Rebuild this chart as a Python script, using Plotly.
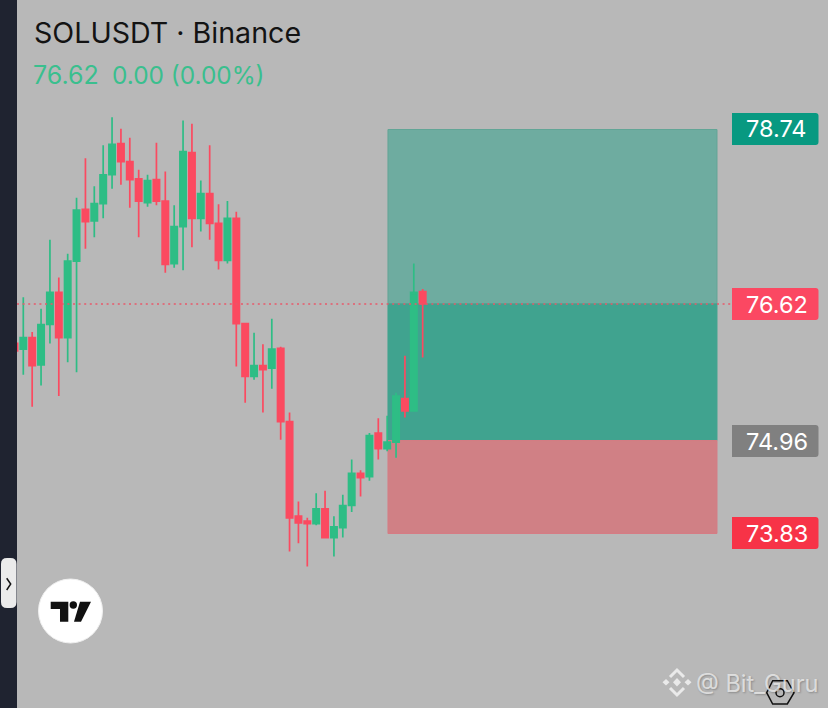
# %%
"""
SOLUSDT candles with a long position box and TradingView style price tags.
"""

import plotly.graph_objects as go

# %%
# Chart values
opens = [76.14, 76.07, 76.21, 75.88, 76.37, 76.76, 76.21, 77.14, 77.77, 77.63, 77.84, 78.19,
         78.57, 78.35, 78.14, 77.85, 78.13, 77.87, 77.11, 77.56, 78.46, 77.66, 77.96, 77.60,
         77.15, 77.66, 76.38, 75.74, 75.87, 75.84, 76.08, 75.19, 74.04, 73.98, 73.95, 74.13,
         73.78, 73.90, 74.17, 74.56, 74.52, 75.05, 74.86, 74.94, 75.47, 75.32, 76.77]
highs = [76.18, 76.70, 76.28, 76.56, 77.40, 76.94, 77.23, 77.91, 78.39, 78.05, 78.55, 78.89,
         78.75, 78.64, 78.25, 78.19, 78.58, 78.23, 77.82, 78.85, 78.81, 78.12, 78.55, 77.83,
         77.87, 77.74, 76.38, 76.27, 76.13, 76.44, 76.10, 75.30, 74.22, 74.02, 74.32, 74.35,
         74.04, 74.30, 74.73, 74.60, 75.05, 75.23, 75.26, 75.54, 75.99, 77.11, 76.80]
lows = [76.03, 75.76, 75.37, 75.63, 76.14, 75.50, 75.91, 75.79, 77.29, 77.43, 77.66, 78.02,
        78.07, 77.79, 77.43, 77.80, 77.82, 77.00, 77.06, 77.03, 77.31, 77.50, 77.40, 77.04,
        77.11, 75.86, 75.42, 75.70, 75.30, 75.59, 74.97, 73.61, 73.71, 73.43, 73.93, 73.78,
        73.55, 73.78, 74.09, 74.28, 74.47, 74.73, 74.83, 74.75, 75.24, 75.32, 75.97]
closes = [76.05, 76.21, 75.87, 76.37, 76.76, 76.21, 77.14, 77.76, 77.62, 77.84, 78.19, 78.56,
          78.35, 78.13, 77.87, 78.12, 77.87, 77.10, 77.56, 78.47, 77.66, 77.96, 77.60, 77.15,
          77.66, 76.38, 75.74, 75.87, 75.82, 76.07, 75.19, 74.02, 73.96, 73.95, 74.13, 73.78,
          73.91, 74.17, 74.56, 74.51, 75.02, 74.86, 74.94, 75.50, 75.32, 76.76, 76.62]
candle_index = list(range(-1, 46))

target_price = 78.74
last_price = 76.62
entry_price = 74.96
stop_price = 73.83
tag_labels = ["78.74", "76.62", "74.96", "73.83"]
tag_prices = [target_price, last_price, entry_price, stop_price]
tag_colors = ["#089981", "#fb4862", "#808080", "#f73347"]
box_start = 41.09
box_end = 78.16

# %%
# Screen layout: the page is 828x708 and everything is placed on it
W, H = 828, 708
BG = "#b8b8b8"
GREEN = "#2ebd85"
RED = "#fb4a60"
PX_PER_PRICE = 82.28
Y_TOP = target_price + 129.5 / PX_PER_PRICE
Y_BOTTOM = target_price - (H - 129.5) / PX_PER_PRICE
X_LEFT = -23.3 / 8.875
X_RIGHT = (W - 23.3) / 8.875


def fx(px):
    return px / W


def fy(py):
    return 1 - py / H


def px_path(points, close=True):
    # build a paper-coordinate svg path from page pixels
    parts = [f"{'M' if i == 0 else 'L'} {fx(x):.5f} {fy(y):.5f}" for i, (x, y) in enumerate(points)]
    return " ".join(parts) + (" Z" if close else "")


def tag_path(x0, x1, y0, y1, r=3):
    # square on the left, rounded on the right
    return (
        f"M {fx(x0):.5f} {fy(y0):.5f} L {fx(x1 - r):.5f} {fy(y0):.5f} "
        f"Q {fx(x1):.5f} {fy(y0):.5f} {fx(x1):.5f} {fy(y0 + r):.5f} "
        f"L {fx(x1):.5f} {fy(y1 - r):.5f} "
        f"Q {fx(x1):.5f} {fy(y1):.5f} {fx(x1 - r):.5f} {fy(y1):.5f} "
        f"L {fx(x0):.5f} {fy(y1):.5f} Z"
    )


def pill_path(x0, x1, y0, y1, r):
    return (
        f"M {fx(x0 + r):.5f} {fy(y0):.5f} L {fx(x1 - r):.5f} {fy(y0):.5f} "
        f"Q {fx(x1):.5f} {fy(y0):.5f} {fx(x1):.5f} {fy(y0 + r):.5f} "
        f"L {fx(x1):.5f} {fy(y1 - r):.5f} "
        f"Q {fx(x1):.5f} {fy(y1):.5f} {fx(x1 - r):.5f} {fy(y1):.5f} "
        f"L {fx(x0 + r):.5f} {fy(y1):.5f} "
        f"Q {fx(x0):.5f} {fy(y1):.5f} {fx(x0):.5f} {fy(y1 - r):.5f} "
        f"L {fx(x0):.5f} {fy(y0 + r):.5f} "
        f"Q {fx(x0):.5f} {fy(y0):.5f} {fx(x0 + r):.5f} {fy(y0):.5f} Z"
    )


def page_shape(path, fill="rgba(0,0,0,0)", color="rgba(0,0,0,0)", width=0, opacity=1):
    return dict(type="path", xref="paper", yref="paper", path=path, fillcolor=fill,
                line=dict(color=color, width=width), opacity=opacity, layer="above")


# %%
fig = go.Figure()

fig.add_trace(go.Candlestick(
    x=candle_index,
    open=opens,
    high=highs,
    low=lows,
    close=closes,
    increasing=dict(line=dict(color=GREEN, width=1.7), fillcolor=GREEN),
    decreasing=dict(line=dict(color=RED, width=1.7), fillcolor=RED),
    whiskerwidth=0,
    hoverinfo="skip",
    showlegend=False,
))

shapes = []

# Position box
shapes.append(dict(type="rect", x0=box_start, x1=box_end, y0=last_price, y1=target_price,
                   fillcolor="#6eaca0", line=dict(color="#62a596", width=1), layer="below"))
shapes.append(dict(type="rect", x0=box_start, x1=box_end, y0=entry_price, y1=last_price,
                   fillcolor="#40a38f", line=dict(color="#40a38f", width=1), layer="below"))
shapes.append(dict(type="rect", x0=box_start, x1=box_end, y0=stop_price, y1=entry_price,
                   fillcolor="#d08085", line=dict(color="#d57c84", width=1), layer="below"))

# Last price line
shapes.append(dict(type="line", xref="paper", x0=fx(17), x1=fx(731), yref="y", y0=last_price, y1=last_price,
                   line=dict(color="#e8586a", width=1.6, dash="2px,3.6px"), layer="above"))

# Sidebar and handle
shapes.append(dict(type="rect", xref="paper", yref="paper", x0=0, x1=fx(17), y0=0, y1=1,
                   fillcolor="#1f2330", line=dict(width=0), layer="above"))
shapes.append(page_shape(pill_path(1, 16.5, 558, 608, 6), fill="#ebebeb"))
shapes.append(page_shape(px_path([(6.7, 578.3), (10.7, 584), (6.7, 590)], close=False),
                         color="#111111", width=1.5))

# TradingView badge
shapes.append(dict(type="circle", xref="paper", yref="paper", x0=fx(38.5), x1=fx(102.5), y0=fy(643), y1=fy(579),
                   fillcolor="#ffffff", line=dict(color="#f0f0f0", width=1), layer="above"))
shapes.append(page_shape(px_path([(50.7, 601.7), (68.3, 601.7), (68.3, 621.7), (60, 621.7), (60, 609), (50.7, 609)]),
                         fill="#111111"))
shapes.append(dict(type="circle", xref="paper", yref="paper", x0=fx(69.6), x1=fx(77), y0=fy(608.7), y1=fy(601.3),
                   fillcolor="#111111", line=dict(width=0), layer="above"))
shapes.append(page_shape(px_path([(80, 601.7), (91, 601.7), (81, 621.7), (74, 621.7)]), fill="#111111"))

# Price tags
tag_y = [129, 304, 441, 533]
for y, color in zip(tag_y, tag_colors):
    shapes.append(page_shape(tag_path(732, 818.5, y - 16, y + 16), fill=color))

# Binance mark
mark = "rgba(242,242,242,0.85)"
shapes.append(page_shape(px_path([(670, 677), (677, 670), (684, 677)], close=False), color=mark, width=3))
shapes.append(page_shape(px_path([(670, 688), (677, 695), (684, 688)], close=False), color=mark, width=3))
shapes.append(page_shape(px_path([(677, 678), (681, 682.3), (677, 686.5), (673, 682.3)]), fill=mark))
shapes.append(page_shape(px_path([(666, 679), (669.5, 682.3), (666, 685.5), (662.5, 682.3)]), fill=mark))
shapes.append(page_shape(px_path([(688, 679), (691.5, 682.3), (688, 685.5), (684.5, 682.3)]), fill=mark))

# Black hexagon icon over the watermark
shapes.append(page_shape(px_path([(766.7, 692.7), (772.7, 680.7), (787.3, 680.7), (794, 692.7), (787.3, 704), (772.7, 704)]),
                         color="#111111", width=1.5))
shapes.append(dict(type="circle", xref="paper", yref="paper", x0=fx(776), x1=fx(784), y0=fy(696.7), y1=fy(688.7),
                   line=dict(color="#111111", width=1.5), layer="above"))

fig.update_layout(shapes=shapes)

# %%
# Text
font = "Inter"


def add_text(text, x, y, size, color, anchor="left", shadow=None):
    fig.add_annotation(text=text, xref="paper", yref="paper", x=fx(x), y=fy(y), xanchor=anchor, yanchor="middle",
                       showarrow=False, font=dict(family=font, size=size, color=color, shadow=shadow))


add_text("SOLUSDT · Binance", 32, 32.5, 28.6, "#131313")
add_text("76.62", 30.5, 74.5, 25, "#3abf8e")
add_text("0.00 (0.00%)", 109.5, 74.5, 24.4, "#3abf8e")
for label, y in zip(tag_labels, tag_y):
    add_text(label, 776.5, y, 23.5, "#ffffff", anchor="center")
add_text("@ Bit_Guru", 694, 683, 23.6, "rgba(236,236,236,0.8)", shadow="1px 1px 2px rgba(0,0,0,0.3)")

# %%
fig.update_layout(
    width=W,
    height=H,
    margin=dict(l=0, r=0, t=0, b=0),
    paper_bgcolor=BG,
    plot_bgcolor=BG,
    showlegend=False,
    boxgap=0.29,
    boxgroupgap=0,
    xaxis=dict(visible=False, range=[X_LEFT, X_RIGHT], rangeslider=dict(visible=False), fixedrange=True),
    yaxis=dict(visible=False, range=[Y_BOTTOM, Y_TOP], fixedrange=True),
)

fig.write_html("out.html", config=dict(displayModeBar=False),
               post_script="document.body.style.margin='0';")
